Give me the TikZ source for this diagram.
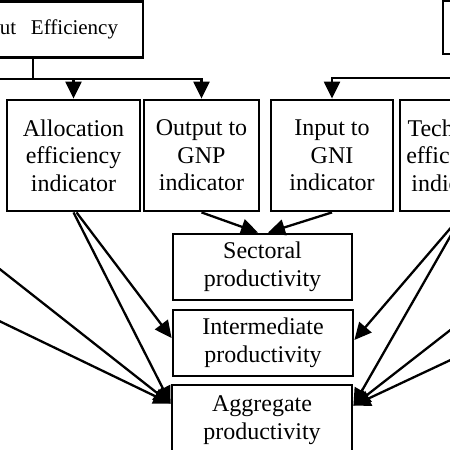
\documentclass[tikz,border=0pt]{standalone}
\usepackage{fontspec}
\setmainfont{Liberation Serif}
\usetikzlibrary{arrows.meta, positioning}

\begin{document}
\begin{tikzpicture}[x=1pt, y=-1pt,
        box/.style={draw, line width=2.8pt, align=center, inner sep=0pt, font=\fontsize{24}{27.5}\selectfont},
        headbox/.style={box, minimum width=210pt, font=\fontsize{21}{25}\selectfont},
        link/.style={line width=2.3pt},
        arr/.style={link, -{Triangle[length=17pt,width=16pt]}}]
        \useasboundingbox (0,0) rectangle (450,450);
        \clip (0,0) rectangle (450,450);
        \fill[white] (0,0) rectangle (450,450);

        % efficiency boxes
        \node[headbox, minimum height=56pt] (outeff) at (38,29.5) {Output\hspace{0.7em}Efficiency};
        \node[headbox, minimum height=53pt] (inpeff) at (548,27.5) {Input\hspace{0.7em}Efficiency};

        % indicators
        \node[box, minimum width=133pt, minimum height=111pt] (alloc) at (73.5,155.5) {Allocation\\efficiency\\indicator};
        \node[box, minimum width=115pt, minimum height=111pt] (outgnp) at (201.5,155.5) {Output to\\GNP\\indicator};
        \node[box, minimum width=122pt, minimum height=111pt] (ingni) at (332,155.5) {Input to\\GNI\\indicator};
        \node[box, minimum width=108pt, minimum height=111pt] (techeff) at (454,155.5) {Technical\\efficiency\\indicator};

        % productivity levels
        \node[box, minimum width=179pt, minimum height=66pt] (sect) at (262.5,267) {Sectoral\\productivity};
        \node[box, minimum width=180pt, minimum height=66pt] (interm) at (263,343) {Intermediate\\productivity};
        \node[box, minimum width=180pt, minimum height=70pt] (aggr) at (262,420) {Aggregate\\productivity};

        \coordinate (splitL) at (33,79);
        \coordinate (busL) at (-80,79);
        \coordinate (busR) at (inpeff.south |- 0,78);
        \coordinate (offL1) at (-74,211);
        \coordinate (offL2) at (-229,211);
        \coordinate (offR1) at (603,211);
        \coordinate (offR2) at (768,211);
        \coordinate (techout) at ([xshift=10pt]techeff.south);
        \coordinate (aggrL) at ([yshift=-20pt]aggr.north west);
        \coordinate (aggrR) at ([yshift=-22pt]aggr.north east);

        % tree lines
        \draw[link] (splitL |- outeff.south) -- (splitL);
        \draw[arr] (busL) -| (alloc.north);
        \draw[arr] (busL) -| (outgnp.north);
        \draw[link] (inpeff.south) -- (busR);
        \draw[arr] (busR) -| (ingni.north);

        \path[arr]
            (outgnp.south) edge ([xshift=-4.5pt]sect.north)
            (ingni.south) edge ([xshift=5.5pt]sect.north)
            ([xshift=3pt]alloc.south) edge ([yshift=5pt]interm.west)
            (alloc.south) edge (aggrL)
            (offL1) edge (aggrL)
            (offL2) edge (aggrL)
            (techout) edge ([yshift=3pt]interm.east)
            (techout) edge (aggrR)
            (offR1) edge (aggrR)
            (offR2) edge (aggrR);
    \end{tikzpicture}
\end{document}
